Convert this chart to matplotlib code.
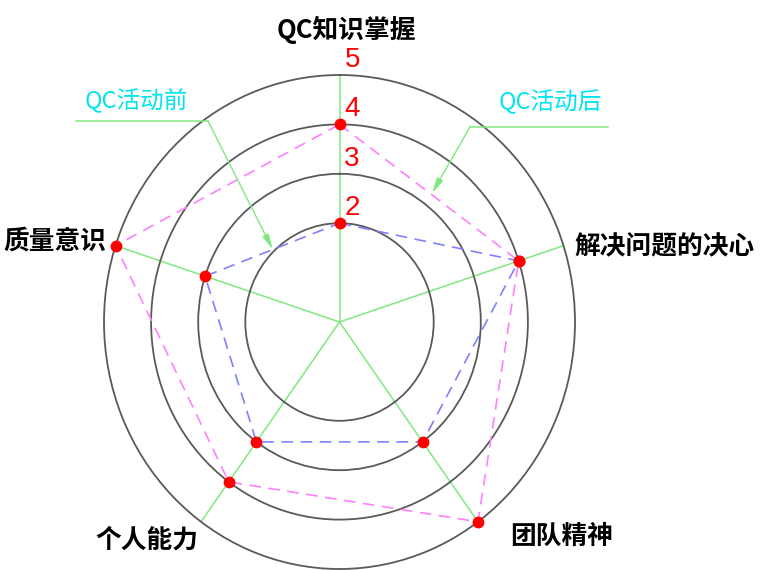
import numpy as np
import matplotlib
matplotlib.use('Agg')
import matplotlib.pyplot as plt
from matplotlib.lines import Line2D

plt.rcParams['font.family'] = ['Noto Sans CJK SC', 'DejaVu Sans']

# 数据
categories = ['QC知识掌握', '解决问题的决心', '团队精神', '个人能力', '质量意识']
before = [2, 4, 3, 3, 3]   # QC活动前
after = [4, 4, 5, 4, 5]    # QC活动后
levels = [2, 3, 4, 5]

grid_color = '#5a5a5a'
green = '#80E880'
cyan = '#00E4EE'

fig = plt.figure(figsize=(7.6, 5.7), dpi=100)
ax = fig.add_axes([104 / 760, 1 / 570, 471 / 760, 494 / 570], projection='polar')
ax.set_aspect('auto')  # 参考图略呈椭圆
ax.set_theta_zero_location('N')
ax.set_theta_direction(-1)

angles = np.arange(len(categories)) * 2 * np.pi / len(categories)
ax.set_ylim(0, 5)
ax.set_yticks(levels[:-1])
ax.set_yticklabels([])
ax.set_xticks(angles)
ax.set_xticklabels([])
ax.yaxis.grid(True, color=grid_color, lw=1.3)
ax.xaxis.grid(True, color=green, lw=1.1)
ax.spines['polar'].set_color(grid_color)
ax.spines['polar'].set_linewidth(1.3)

# 闭合折线
ang = np.append(angles, angles[0])
ax.plot(ang, after + after[:1], color='#FF80FF', lw=1.2, ls=(0, (7, 4.5)), zorder=3, clip_on=False)
ax.plot(ang, before + before[:1], color='#8080FF', lw=1.2, ls=(0, (7, 4.5)), zorder=3, clip_on=False)
ax.plot(angles, after, 'o', color='red', ms=7.5, zorder=4, clip_on=False)
ax.plot(angles, before, 'o', color='red', ms=7.5, zorder=4, clip_on=False)

# 刻度数字
for v in levels:
    ax.annotate(str(v), xy=(0, v), xytext=(3.5, 1.5), textcoords='offset points',
                ha='left', va='bottom', color='red', fontsize=20,
                family=['Liberation Sans', 'DejaVu Sans'])

# 维度标签
lab_kw = dict(fontsize=18.5, fontweight='bold', color='black')
fig.text(346 / 760, 1 - 30 / 570, categories[0], ha='center', va='center', **lab_kw)
fig.text(575 / 760, 1 - 247 / 570, categories[1], ha='left', va='center', **lab_kw)
fig.text(562 / 760, 1 - 536 / 570, categories[2], ha='center', va='center', **lab_kw)
fig.text(147 / 760, 1 - 540 / 570, categories[3], ha='center', va='center', **lab_kw)
fig.text(106 / 760, 1 - 241 / 570, categories[4], ha='right', va='center', **lab_kw)

# 引线标注
arrow = dict(arrowstyle='-|>,head_length=0.9,head_width=0.2', color='#44DD44',
             lw=1.0, shrinkA=0, shrinkB=0)
fig.text(136 / 760, 1 - 101 / 570, 'QC活动前', ha='center', va='center', color=cyan, fontsize=17)
fig.add_artist(Line2D([76 / 760, 208 / 760], [1 - 121 / 570, 1 - 121 / 570], color=green, lw=1.1))
ax.annotate('', xy=(np.deg2rad(316), 2.04), xytext=(208, 570 - 121),
            textcoords='figure pixels', arrowprops=dict(arrow, color=green))

fig.text(550 / 760, 1 - 102 / 570, 'QC活动后', ha='center', va='center', color=cyan, fontsize=17)
fig.add_artist(Line2D([470 / 760, 608 / 760], [1 - 127 / 570, 1 - 127 / 570], color=green, lw=1.1))
ax.annotate('', xy=(np.deg2rad(37), 3.27), xytext=(470, 570 - 127),
            textcoords='figure pixels', arrowprops=dict(arrow, color=green))

fig.savefig('out.png', dpi=100)
